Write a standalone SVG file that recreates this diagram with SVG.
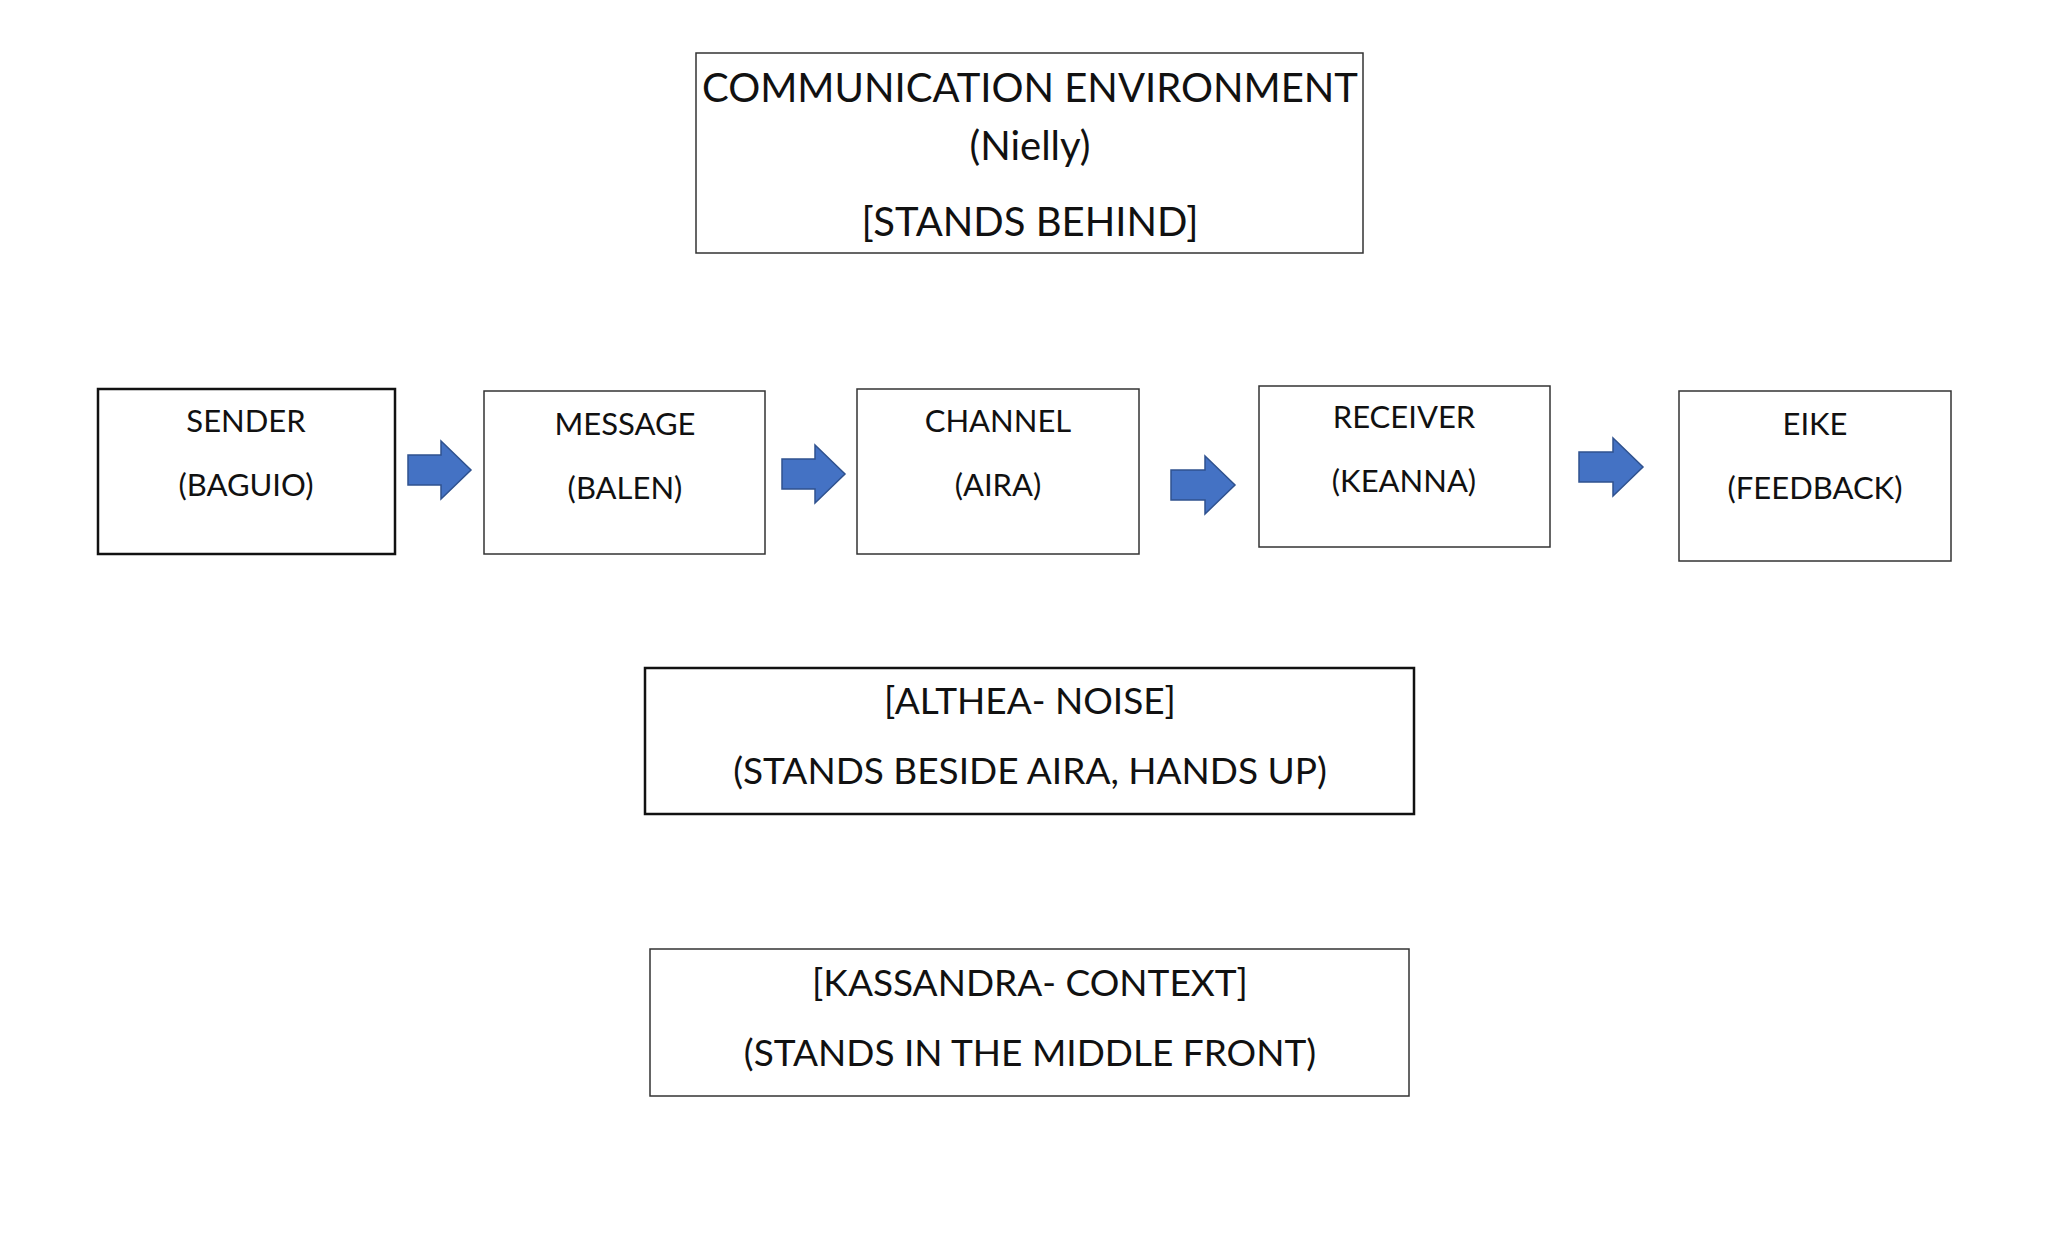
<svg xmlns="http://www.w3.org/2000/svg" width="2048" height="1243" viewBox="0 0 2048 1243">
<style>
rect{fill:#fff;stroke:#333;stroke-width:1.5}
.b{stroke:#111;stroke-width:2.5}
text{font-family:Lato,"Liberation Sans",sans-serif;fill:#111;text-anchor:middle}
.n{font-size:31px}.l{font-size:40px}.m{font-size:37px}
.a{fill:#4472C4;stroke:#2F528F;stroke-width:1.5}
</style>
<rect x="0" y="0" width="2048" height="1243" style="stroke:none"/>
<g id="env"><rect x="696" y="53" width="667" height="200"/>
<text class="l" x="1030" y="102">COMMUNICATION ENVIRONMENT</text><text class="l" x="1030" y="160">(Nielly)</text><text class="l" x="1030" y="236">[STANDS BEHIND]</text></g>
<g id="sender"><rect class="b" x="98" y="389" width="297" height="165"/><text class="n" x="246" y="432">SENDER</text><text class="n" x="246" y="496">(BAGUIO)</text></g>
<g id="message"><rect x="484" y="391" width="281" height="163"/><text class="n" x="625" y="435">MESSAGE</text><text class="n" x="625" y="499">(BALEN)</text></g>
<g id="channel"><rect x="857" y="389" width="282" height="165"/><text class="n" x="998" y="432">CHANNEL</text><text class="n" x="998" y="496">(AIRA)</text></g>
<g id="receiver"><rect x="1259" y="386" width="291" height="161"/><text class="n" x="1404" y="428">RECEIVER</text><text class="n" x="1404" y="492">(KEANNA)</text></g>
<g id="eike"><rect x="1679" y="391" width="272" height="170"/><text class="n" x="1815" y="435">EIKE</text><text class="n" x="1815" y="499">(FEEDBACK)</text></g>
<g id="noise"><rect class="b" x="645" y="668" width="769" height="146"/><text class="m" x="1030" y="714">[ALTHEA- NOISE]</text><text class="m" x="1030" y="784">(STANDS BESIDE AIRA, HANDS UP)</text></g>
<g id="context"><rect x="650" y="949" width="759" height="147"/><text class="m" x="1030" y="996">[KASSANDRA- CONTEXT]</text><text class="m" x="1030" y="1066">(STANDS IN THE MIDDLE FRONT)</text></g>
<g id="connectors">
<polygon class="a" points="408,455 441,455 441,441 471,470 441,499 441,485 408,485"/>
<polygon class="a" points="782,459 815,459 815,445 845,474 815,503 815,489 782,489"/>
<polygon class="a" points="1171,470 1205,470 1205,456 1235,485 1205,514 1205,500 1171,500"/>
<polygon class="a" points="1579,452 1613,452 1613,438 1643,467 1613,496 1613,482 1579,482"/>
</g>
</svg>
